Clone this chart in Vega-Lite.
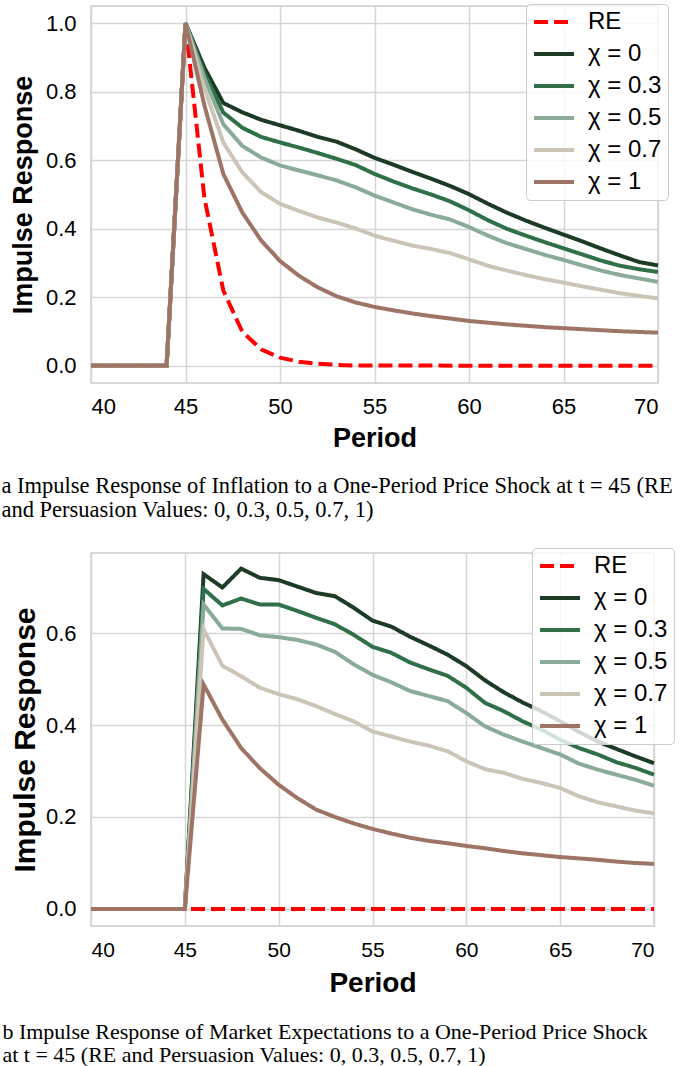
{
  "$schema": "https://vega.github.io/schema/vega-lite/v6.json",
  "padding": {"left": 0, "top": 2, "right": 0, "bottom": 0},
  "background": "white",
  "spacing": 23,
  "resolve": {
    "scale": {"color": "independent", "strokeDash": "independent"},
    "legend": {"color": "independent", "strokeDash": "independent"}
  },
  "config": {
    "view": {"stroke": "#cccccc", "strokeWidth": 1.5},
    "axis": {
      "domain": false,
      "ticks": false,
      "grid": true,
      "gridColor": "#d6d6d6",
      "gridWidth": 1.5,
      "labelColor": "#000000",
      "titleColor": "#000000",
      "labelFont": "Liberation Sans",
      "titleFont": "Liberation Sans",
      "titleFontWeight": "bold"
    },
    "legend": {
      "title": null,
      "symbolType": "M-1,0H3",
      "symbolStrokeWidth": 4,
      "symbolSize": 400,
      "labelFont": "Liberation Sans",
      "labelFontSize": 24,
      "labelColor": "#000000",
      "labelOffset": 32,
      "rowPadding": 8,
      "padding": 6,
      "strokeColor": "#cccccc",
      "fillColor": "rgba(255,255,255,0.8)",
      "cornerRadius": 4
    }
  },
  "datasets": {
    "inflation": [
      {"t": 40, "s": "RE", "v": 0}, {"t": 44, "s": "RE", "v": 0}, {"t": 45, "s": "RE", "v": 1},
      {"t": 46, "s": "RE", "v": 0.49}, {"t": 47, "s": "RE", "v": 0.22}, {"t": 48, "s": "RE", "v": 0.1},
      {"t": 49, "s": "RE", "v": 0.048}, {"t": 50, "s": "RE", "v": 0.024}, {"t": 51, "s": "RE", "v": 0.012},
      {"t": 52, "s": "RE", "v": 0.006}, {"t": 53, "s": "RE", "v": 0.003}, {"t": 54, "s": "RE", "v": 0.001},
      {"t": 70, "s": "RE", "v": 0},

      {"t": 40, "s": "χ = 0", "v": 0}, {"t": 44, "s": "χ = 0", "v": 0}, {"t": 45, "s": "χ = 0", "v": 1},
      {"t": 46, "s": "χ = 0", "v": 0.87}, {"t": 47, "s": "χ = 0", "v": 0.767}, {"t": 48, "s": "χ = 0", "v": 0.74},
      {"t": 49, "s": "χ = 0", "v": 0.718}, {"t": 50, "s": "χ = 0", "v": 0.702}, {"t": 51, "s": "χ = 0", "v": 0.686},
      {"t": 52, "s": "χ = 0", "v": 0.668}, {"t": 53, "s": "χ = 0", "v": 0.654}, {"t": 54, "s": "χ = 0", "v": 0.632},
      {"t": 55, "s": "χ = 0", "v": 0.607}, {"t": 56, "s": "χ = 0", "v": 0.587}, {"t": 57, "s": "χ = 0", "v": 0.566},
      {"t": 58, "s": "χ = 0", "v": 0.546}, {"t": 59, "s": "χ = 0", "v": 0.525}, {"t": 60, "s": "χ = 0", "v": 0.501},
      {"t": 61, "s": "χ = 0", "v": 0.473}, {"t": 62, "s": "χ = 0", "v": 0.447}, {"t": 63, "s": "χ = 0", "v": 0.424},
      {"t": 64, "s": "χ = 0", "v": 0.403}, {"t": 65, "s": "χ = 0", "v": 0.383}, {"t": 66, "s": "χ = 0", "v": 0.363},
      {"t": 67, "s": "χ = 0", "v": 0.342}, {"t": 68, "s": "χ = 0", "v": 0.322}, {"t": 69, "s": "χ = 0", "v": 0.303},
      {"t": 70, "s": "χ = 0", "v": 0.293},

      {"t": 40, "s": "χ = 0.3", "v": 0}, {"t": 44, "s": "χ = 0.3", "v": 0}, {"t": 45, "s": "χ = 0.3", "v": 1},
      {"t": 46, "s": "χ = 0.3", "v": 0.855}, {"t": 47, "s": "χ = 0.3", "v": 0.739}, {"t": 48, "s": "χ = 0.3", "v": 0.695},
      {"t": 49, "s": "χ = 0.3", "v": 0.668}, {"t": 50, "s": "χ = 0.3", "v": 0.652}, {"t": 51, "s": "χ = 0.3", "v": 0.637},
      {"t": 52, "s": "χ = 0.3", "v": 0.621}, {"t": 53, "s": "χ = 0.3", "v": 0.604}, {"t": 54, "s": "χ = 0.3", "v": 0.586},
      {"t": 55, "s": "χ = 0.3", "v": 0.56}, {"t": 56, "s": "χ = 0.3", "v": 0.538}, {"t": 57, "s": "χ = 0.3", "v": 0.518},
      {"t": 58, "s": "χ = 0.3", "v": 0.5}, {"t": 59, "s": "χ = 0.3", "v": 0.48}, {"t": 60, "s": "χ = 0.3", "v": 0.454},
      {"t": 61, "s": "χ = 0.3", "v": 0.425}, {"t": 62, "s": "χ = 0.3", "v": 0.4}, {"t": 63, "s": "χ = 0.3", "v": 0.38},
      {"t": 64, "s": "χ = 0.3", "v": 0.361}, {"t": 65, "s": "χ = 0.3", "v": 0.343}, {"t": 66, "s": "χ = 0.3", "v": 0.325},
      {"t": 67, "s": "χ = 0.3", "v": 0.307}, {"t": 68, "s": "χ = 0.3", "v": 0.292}, {"t": 69, "s": "χ = 0.3", "v": 0.282},
      {"t": 70, "s": "χ = 0.3", "v": 0.274},

      {"t": 40, "s": "χ = 0.5", "v": 0}, {"t": 44, "s": "χ = 0.5", "v": 0}, {"t": 45, "s": "χ = 0.5", "v": 1},
      {"t": 46, "s": "χ = 0.5", "v": 0.84}, {"t": 47, "s": "χ = 0.5", "v": 0.705}, {"t": 48, "s": "χ = 0.5", "v": 0.642},
      {"t": 49, "s": "χ = 0.5", "v": 0.608}, {"t": 50, "s": "χ = 0.5", "v": 0.585}, {"t": 51, "s": "χ = 0.5", "v": 0.57},
      {"t": 52, "s": "χ = 0.5", "v": 0.556}, {"t": 53, "s": "χ = 0.5", "v": 0.541}, {"t": 54, "s": "χ = 0.5", "v": 0.521},
      {"t": 55, "s": "χ = 0.5", "v": 0.497}, {"t": 56, "s": "χ = 0.5", "v": 0.477}, {"t": 57, "s": "χ = 0.5", "v": 0.457},
      {"t": 58, "s": "χ = 0.5", "v": 0.441}, {"t": 59, "s": "χ = 0.5", "v": 0.427}, {"t": 60, "s": "χ = 0.5", "v": 0.405},
      {"t": 61, "s": "χ = 0.5", "v": 0.38}, {"t": 62, "s": "χ = 0.5", "v": 0.358}, {"t": 63, "s": "χ = 0.5", "v": 0.341},
      {"t": 64, "s": "χ = 0.5", "v": 0.324}, {"t": 65, "s": "χ = 0.5", "v": 0.309}, {"t": 66, "s": "χ = 0.5", "v": 0.293},
      {"t": 67, "s": "χ = 0.5", "v": 0.278}, {"t": 68, "s": "χ = 0.5", "v": 0.265}, {"t": 69, "s": "χ = 0.5", "v": 0.255},
      {"t": 70, "s": "χ = 0.5", "v": 0.245},

      {"t": 40, "s": "χ = 0.7", "v": 0}, {"t": 44, "s": "χ = 0.7", "v": 0}, {"t": 45, "s": "χ = 0.7", "v": 1},
      {"t": 46, "s": "χ = 0.7", "v": 0.81}, {"t": 47, "s": "χ = 0.7", "v": 0.652}, {"t": 48, "s": "χ = 0.7", "v": 0.565},
      {"t": 49, "s": "χ = 0.7", "v": 0.507}, {"t": 50, "s": "χ = 0.7", "v": 0.473}, {"t": 51, "s": "χ = 0.7", "v": 0.452},
      {"t": 52, "s": "χ = 0.7", "v": 0.433}, {"t": 53, "s": "χ = 0.7", "v": 0.418}, {"t": 54, "s": "χ = 0.7", "v": 0.401},
      {"t": 55, "s": "χ = 0.7", "v": 0.38}, {"t": 56, "s": "χ = 0.7", "v": 0.365}, {"t": 57, "s": "χ = 0.7", "v": 0.351},
      {"t": 58, "s": "χ = 0.7", "v": 0.341}, {"t": 59, "s": "χ = 0.7", "v": 0.329}, {"t": 60, "s": "χ = 0.7", "v": 0.311},
      {"t": 61, "s": "χ = 0.7", "v": 0.292}, {"t": 62, "s": "χ = 0.7", "v": 0.278}, {"t": 63, "s": "χ = 0.7", "v": 0.265},
      {"t": 64, "s": "χ = 0.7", "v": 0.253}, {"t": 65, "s": "χ = 0.7", "v": 0.243}, {"t": 66, "s": "χ = 0.7", "v": 0.232},
      {"t": 67, "s": "χ = 0.7", "v": 0.222}, {"t": 68, "s": "χ = 0.7", "v": 0.212}, {"t": 69, "s": "χ = 0.7", "v": 0.204},
      {"t": 70, "s": "χ = 0.7", "v": 0.197},

      {"t": 40, "s": "χ = 1", "v": 0}, {"t": 44, "s": "χ = 1", "v": 0}, {"t": 45, "s": "χ = 1", "v": 1},
      {"t": 46, "s": "χ = 1", "v": 0.76}, {"t": 47, "s": "χ = 1", "v": 0.56}, {"t": 48, "s": "χ = 1", "v": 0.448},
      {"t": 49, "s": "χ = 1", "v": 0.366}, {"t": 50, "s": "χ = 1", "v": 0.306}, {"t": 51, "s": "χ = 1", "v": 0.263},
      {"t": 52, "s": "χ = 1", "v": 0.229}, {"t": 53, "s": "χ = 1", "v": 0.203}, {"t": 54, "s": "χ = 1", "v": 0.185},
      {"t": 55, "s": "χ = 1", "v": 0.172}, {"t": 56, "s": "χ = 1", "v": 0.162}, {"t": 57, "s": "χ = 1", "v": 0.153},
      {"t": 58, "s": "χ = 1", "v": 0.145}, {"t": 59, "s": "χ = 1", "v": 0.138}, {"t": 60, "s": "χ = 1", "v": 0.131},
      {"t": 61, "s": "χ = 1", "v": 0.126}, {"t": 62, "s": "χ = 1", "v": 0.121}, {"t": 63, "s": "χ = 1", "v": 0.117},
      {"t": 64, "s": "χ = 1", "v": 0.113}, {"t": 65, "s": "χ = 1", "v": 0.11}, {"t": 66, "s": "χ = 1", "v": 0.107},
      {"t": 67, "s": "χ = 1", "v": 0.104}, {"t": 68, "s": "χ = 1", "v": 0.101}, {"t": 69, "s": "χ = 1", "v": 0.099},
      {"t": 70, "s": "χ = 1", "v": 0.097}
    ],
    "expectations": [
      {"t": 40, "s": "RE", "v": 0}, {"t": 70, "s": "RE", "v": 0},

      {"t": 40, "s": "χ = 0", "v": 0}, {"t": 45, "s": "χ = 0", "v": 0}, {"t": 46, "s": "χ = 0", "v": 0.728},
      {"t": 47, "s": "χ = 0", "v": 0.699}, {"t": 48, "s": "χ = 0", "v": 0.74}, {"t": 49, "s": "χ = 0", "v": 0.72},
      {"t": 50, "s": "χ = 0", "v": 0.715}, {"t": 51, "s": "χ = 0", "v": 0.701}, {"t": 52, "s": "χ = 0", "v": 0.687},
      {"t": 53, "s": "χ = 0", "v": 0.68}, {"t": 54, "s": "χ = 0", "v": 0.655}, {"t": 55, "s": "χ = 0", "v": 0.627},
      {"t": 56, "s": "χ = 0", "v": 0.614}, {"t": 57, "s": "χ = 0", "v": 0.592}, {"t": 58, "s": "χ = 0", "v": 0.573},
      {"t": 59, "s": "χ = 0", "v": 0.553}, {"t": 60, "s": "χ = 0", "v": 0.528}, {"t": 61, "s": "χ = 0", "v": 0.497},
      {"t": 62, "s": "χ = 0", "v": 0.471}, {"t": 63, "s": "χ = 0", "v": 0.449}, {"t": 64, "s": "χ = 0", "v": 0.43},
      {"t": 65, "s": "χ = 0", "v": 0.408}, {"t": 66, "s": "χ = 0", "v": 0.385}, {"t": 67, "s": "χ = 0", "v": 0.364},
      {"t": 68, "s": "χ = 0", "v": 0.348}, {"t": 69, "s": "χ = 0", "v": 0.332}, {"t": 70, "s": "χ = 0", "v": 0.317},

      {"t": 40, "s": "χ = 0.3", "v": 0}, {"t": 45, "s": "χ = 0.3", "v": 0}, {"t": 46, "s": "χ = 0.3", "v": 0.696},
      {"t": 47, "s": "χ = 0.3", "v": 0.66}, {"t": 48, "s": "χ = 0.3", "v": 0.675}, {"t": 49, "s": "χ = 0.3", "v": 0.662},
      {"t": 50, "s": "χ = 0.3", "v": 0.662}, {"t": 51, "s": "χ = 0.3", "v": 0.648}, {"t": 52, "s": "χ = 0.3", "v": 0.633},
      {"t": 53, "s": "χ = 0.3", "v": 0.619}, {"t": 54, "s": "χ = 0.3", "v": 0.596}, {"t": 55, "s": "χ = 0.3", "v": 0.57},
      {"t": 56, "s": "χ = 0.3", "v": 0.557}, {"t": 57, "s": "χ = 0.3", "v": 0.536}, {"t": 58, "s": "χ = 0.3", "v": 0.521},
      {"t": 59, "s": "χ = 0.3", "v": 0.507}, {"t": 60, "s": "χ = 0.3", "v": 0.481}, {"t": 61, "s": "χ = 0.3", "v": 0.448},
      {"t": 62, "s": "χ = 0.3", "v": 0.43}, {"t": 63, "s": "χ = 0.3", "v": 0.408}, {"t": 64, "s": "χ = 0.3", "v": 0.39},
      {"t": 65, "s": "χ = 0.3", "v": 0.368}, {"t": 66, "s": "χ = 0.3", "v": 0.35}, {"t": 67, "s": "χ = 0.3", "v": 0.336},
      {"t": 68, "s": "χ = 0.3", "v": 0.319}, {"t": 69, "s": "χ = 0.3", "v": 0.307}, {"t": 70, "s": "χ = 0.3", "v": 0.292},

      {"t": 40, "s": "χ = 0.5", "v": 0}, {"t": 45, "s": "χ = 0.5", "v": 0}, {"t": 46, "s": "χ = 0.5", "v": 0.662},
      {"t": 47, "s": "χ = 0.5", "v": 0.61}, {"t": 48, "s": "χ = 0.5", "v": 0.609}, {"t": 49, "s": "χ = 0.5", "v": 0.595},
      {"t": 50, "s": "χ = 0.5", "v": 0.591}, {"t": 51, "s": "χ = 0.5", "v": 0.585}, {"t": 52, "s": "χ = 0.5", "v": 0.575},
      {"t": 53, "s": "χ = 0.5", "v": 0.559}, {"t": 54, "s": "χ = 0.5", "v": 0.532}, {"t": 55, "s": "χ = 0.5", "v": 0.509},
      {"t": 56, "s": "χ = 0.5", "v": 0.493}, {"t": 57, "s": "χ = 0.5", "v": 0.474}, {"t": 58, "s": "χ = 0.5", "v": 0.463},
      {"t": 59, "s": "χ = 0.5", "v": 0.452}, {"t": 60, "s": "χ = 0.5", "v": 0.426}, {"t": 61, "s": "χ = 0.5", "v": 0.397},
      {"t": 62, "s": "χ = 0.5", "v": 0.379}, {"t": 63, "s": "χ = 0.5", "v": 0.364}, {"t": 64, "s": "χ = 0.5", "v": 0.35},
      {"t": 65, "s": "χ = 0.5", "v": 0.336}, {"t": 66, "s": "χ = 0.5", "v": 0.316}, {"t": 67, "s": "χ = 0.5", "v": 0.303},
      {"t": 68, "s": "χ = 0.5", "v": 0.292}, {"t": 69, "s": "χ = 0.5", "v": 0.281}, {"t": 70, "s": "χ = 0.5", "v": 0.268},

      {"t": 40, "s": "χ = 0.7", "v": 0}, {"t": 45, "s": "χ = 0.7", "v": 0}, {"t": 46, "s": "χ = 0.7", "v": 0.608},
      {"t": 47, "s": "χ = 0.7", "v": 0.529}, {"t": 48, "s": "χ = 0.7", "v": 0.506}, {"t": 49, "s": "χ = 0.7", "v": 0.481},
      {"t": 50, "s": "χ = 0.7", "v": 0.467}, {"t": 51, "s": "χ = 0.7", "v": 0.456}, {"t": 52, "s": "χ = 0.7", "v": 0.441},
      {"t": 53, "s": "χ = 0.7", "v": 0.424}, {"t": 54, "s": "χ = 0.7", "v": 0.408}, {"t": 55, "s": "χ = 0.7", "v": 0.386},
      {"t": 56, "s": "χ = 0.7", "v": 0.375}, {"t": 57, "s": "χ = 0.7", "v": 0.364}, {"t": 58, "s": "χ = 0.7", "v": 0.355},
      {"t": 59, "s": "χ = 0.7", "v": 0.343}, {"t": 60, "s": "χ = 0.7", "v": 0.321}, {"t": 61, "s": "χ = 0.7", "v": 0.304},
      {"t": 62, "s": "χ = 0.7", "v": 0.296}, {"t": 63, "s": "χ = 0.7", "v": 0.283}, {"t": 64, "s": "χ = 0.7", "v": 0.274},
      {"t": 65, "s": "χ = 0.7", "v": 0.263}, {"t": 66, "s": "χ = 0.7", "v": 0.245}, {"t": 67, "s": "χ = 0.7", "v": 0.232},
      {"t": 68, "s": "χ = 0.7", "v": 0.223}, {"t": 69, "s": "χ = 0.7", "v": 0.214}, {"t": 70, "s": "χ = 0.7", "v": 0.208},

      {"t": 40, "s": "χ = 1", "v": 0}, {"t": 45, "s": "χ = 1", "v": 0}, {"t": 46, "s": "χ = 1", "v": 0.488},
      {"t": 47, "s": "χ = 1", "v": 0.412}, {"t": 48, "s": "χ = 1", "v": 0.35}, {"t": 49, "s": "χ = 1", "v": 0.306},
      {"t": 50, "s": "χ = 1", "v": 0.27}, {"t": 51, "s": "χ = 1", "v": 0.241}, {"t": 52, "s": "χ = 1", "v": 0.216},
      {"t": 53, "s": "χ = 1", "v": 0.2}, {"t": 54, "s": "χ = 1", "v": 0.186}, {"t": 55, "s": "χ = 1", "v": 0.174},
      {"t": 56, "s": "χ = 1", "v": 0.164}, {"t": 57, "s": "χ = 1", "v": 0.155}, {"t": 58, "s": "χ = 1", "v": 0.148},
      {"t": 59, "s": "χ = 1", "v": 0.143}, {"t": 60, "s": "χ = 1", "v": 0.137}, {"t": 61, "s": "χ = 1", "v": 0.132},
      {"t": 62, "s": "χ = 1", "v": 0.126}, {"t": 63, "s": "χ = 1", "v": 0.121}, {"t": 64, "s": "χ = 1", "v": 0.117},
      {"t": 65, "s": "χ = 1", "v": 0.113}, {"t": 66, "s": "χ = 1", "v": 0.11}, {"t": 67, "s": "χ = 1", "v": 0.107},
      {"t": 68, "s": "χ = 1", "v": 0.103}, {"t": 69, "s": "χ = 1", "v": 0.1}, {"t": 70, "s": "χ = 1", "v": 0.098}
    ]
  },
  "vconcat": [
    {
      "width": 567,
      "height": 377,
      "data": {"name": "inflation"},
      "title": {
        "text": [
          "a Impulse Response of Inflation to a One-Period Price Shock at t = 45 (RE",
          "and Persuasion Values: 0, 0.3, 0.5, 0.7, 1)"
        ],
        "orient": "bottom",
        "anchor": "start",
        "frame": "bounds",
        "font": "Liberation Serif",
        "fontSize": 22.5,
        "fontWeight": "normal",
        "color": "#000000",
        "lineHeight": 24,
        "offset": 24,
        "dx": -8
      },
      "mark": {"type": "line", "strokeWidth": 4, "strokeCap": "butt"},
      "encoding": {
        "x": {
          "field": "t",
          "type": "quantitative",
          "scale": {"domain": [40, 70], "nice": false},
          "axis": {
            "values": [40, 45, 50, 55, 60, 65, 70],
            "title": "Period",
            "labelFontSize": 22,
            "titleFontSize": 27,
            "labelPadding": 13,
            "titlePadding": 8
          }
        },
        "y": {
          "field": "v",
          "type": "quantitative",
          "scale": {"domain": [-0.05, 1.05], "nice": false, "zero": false},
          "axis": {
            "values": [0, 0.2, 0.4, 0.6, 0.8, 1],
            "format": ".1f",
            "title": "Impulse Response",
            "labelFontSize": 22,
            "titleFontSize": 27,
            "labelPadding": 15,
            "titlePadding": 8
          }
        },
        "color": {
          "field": "s",
          "type": "nominal",
          "scale": {
            "domain": ["RE", "χ = 0", "χ = 0.3", "χ = 0.5", "χ = 0.7", "χ = 1"],
            "range": ["#ff0000", "#1c3a24", "#2f7049", "#8aab98", "#ccc4b6", "#9e7466"]
          },
          "legend": {"title": null, "orient": "none", "legendX": 435, "legendY": -2}
        },
        "strokeDash": {
          "field": "s",
          "type": "nominal",
          "scale": {
            "domain": ["RE", "χ = 0", "χ = 0.3", "χ = 0.5", "χ = 0.7", "χ = 1"],
            "range": [[14, 6], [1, 0], [1, 0], [1, 0], [1, 0], [1, 0]]
          },
          "legend": {"title": null, "orient": "none", "legendX": 435, "legendY": -2}
        }
      }
    },
    {
      "width": 563,
      "height": 373,
      "data": {"name": "expectations"},
      "title": {
        "text": [
          "b Impulse Response of Market Expectations to a One-Period Price Shock",
          "at t = 45 (RE and Persuasion Values: 0, 0.3, 0.5, 0.7, 1)"
        ],
        "orient": "bottom",
        "anchor": "start",
        "frame": "bounds",
        "font": "Liberation Serif",
        "fontSize": 22,
        "fontWeight": "normal",
        "color": "#000000",
        "lineHeight": 23,
        "offset": 25,
        "dx": -8
      },
      "mark": {"type": "line", "strokeWidth": 4, "strokeCap": "butt"},
      "encoding": {
        "x": {
          "field": "t",
          "type": "quantitative",
          "scale": {"domain": [40, 70], "nice": false},
          "axis": {
            "values": [40, 45, 50, 55, 60, 65, 70],
            "title": "Period",
            "labelFontSize": 21,
            "titleFontSize": 28,
            "labelPadding": 13,
            "titlePadding": 9
          }
        },
        "y": {
          "field": "v",
          "type": "quantitative",
          "scale": {"domain": [-0.037, 0.774], "nice": false, "zero": false},
          "axis": {
            "values": [0, 0.2, 0.4, 0.6],
            "format": ".1f",
            "title": "Impulse Response",
            "labelFontSize": 22,
            "titleFontSize": 30,
            "labelPadding": 15,
            "titlePadding": 5
          }
        },
        "color": {
          "field": "s",
          "type": "nominal",
          "scale": {
            "domain": ["RE", "χ = 0", "χ = 0.3", "χ = 0.5", "χ = 0.7", "χ = 1"],
            "range": ["#ff0000", "#1c3a24", "#2f7049", "#8aab98", "#ccc4b6", "#9e7466"]
          },
          "legend": {"title": null, "orient": "none", "legendX": 441, "legendY": -5}
        },
        "strokeDash": {
          "field": "s",
          "type": "nominal",
          "scale": {
            "domain": ["RE", "χ = 0", "χ = 0.3", "χ = 0.5", "χ = 0.7", "χ = 1"],
            "range": [[14, 6], [1, 0], [1, 0], [1, 0], [1, 0], [1, 0]]
          },
          "legend": {"title": null, "orient": "none", "legendX": 441, "legendY": -5}
        }
      }
    }
  ]
}
